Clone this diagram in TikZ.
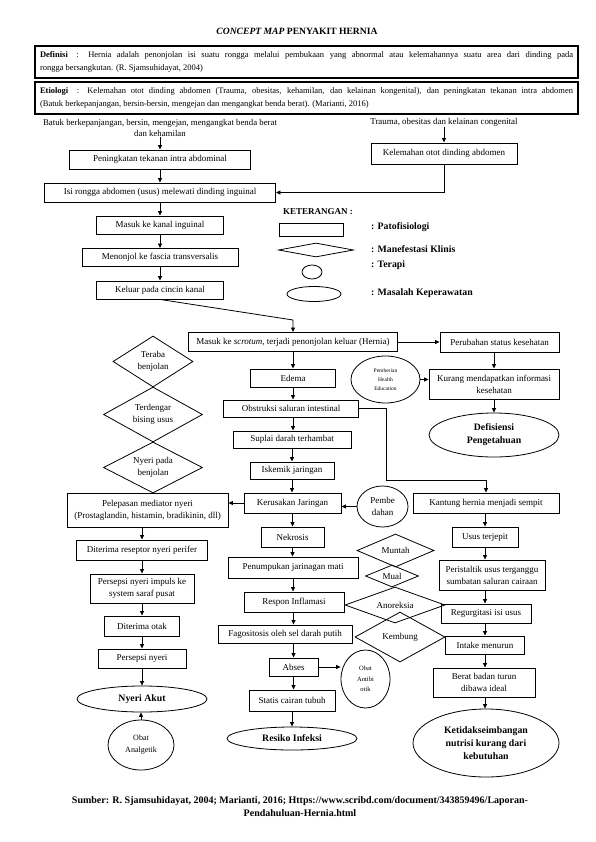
\documentclass[tikz,border=0pt]{standalone}
\usepackage{fontspec}
\setmainfont{Liberation Serif}
\usetikzlibrary{arrows.meta,shapes.geometric,calc}
\begin{document}
\begin{tikzpicture}[x=1pt,y=-1pt,
  every node/.style={font=\fontsize{9}{12}\selectfont, inner sep=1pt},
  box/.style={draw, line width=0.9pt, align=center, inner sep=1pt},
  dmd/.style={draw, diamond, line width=0.8pt, shape aspect=2, inner sep=0pt, align=center},
  ell/.style={draw, ellipse, line width=0.8pt, inner sep=0pt, align=center},
  bigell/.style={ell, font=\fontsize{9.8}{13}\selectfont\bfseries},
  arr/.style={-{Triangle[length=4.5pt,width=4pt]}, line width=0.8pt},
  lgl/.style={anchor=west, font=\fontsize{9.8}{11}\selectfont\bfseries},
  infobox/.style={draw, line width=1.1pt, minimum width=543, minimum height=32, inner sep=0pt}
]
\useasboundingbox (0,0) rectangle (595,842);

% title and info boxes
\node[font=\fontsize{9.6}{11}\selectfont\bfseries] (title) at (297,31) {\textit{CONCEPT MAP} PENYAKIT HERNIA};
\node[infobox] (def) at (306.5,62) {\parbox{533pt}{\fontsize{8.5}{12.5}\selectfont\hyphenpenalty=10000 \textbf{Definisi}\quad: Hernia adalah penonjolan isi suatu rongga melalui pembukaan yang abnormal atau kelemahannya suatu area dari dinding pada\linebreak rongga bersangkutan. (R. Sjamsuhidayat, 2004)}};
\node[infobox] (eti) at (306.5,98) {\parbox{533pt}{\fontsize{8.5}{12.5}\selectfont\hyphenpenalty=10000 \textbf{Etiologi}\quad: Kelemahan otot dinding abdomen (Trauma, obesitas, kehamilan, dan kelainan kongenital), dan peningkatan tekanan intra abdomen\linebreak (Batuk berkepanjangan, bersin-bersin, mengejan dan mengangkat benda berat). (Marianti, 2016)}};

% causes
\node[align=center, font=\fontsize{8.8}{11}\selectfont] (t1) at (160,127.5) {Batuk berkepanjangan, bersin, mengejan, mengangkat benda berat\\dan kehamilan};
\node[font=\fontsize{8.9}{11}\selectfont] (t2) at (444,122) {Trauma, obesitas dan kelainan congenital};

% left top column
\node[box, minimum width=181, minimum height=19] (n1) at (160,159.5) {Peningkatan tekanan intra abdominal};
\node[box, minimum width=231, minimum height=19] (n2) at (160,192.5) {Isi rongga abdomen (usus) melewati dinding inguinal};
\node[box, minimum width=127, minimum height=18] (n3) at (160,225) {Masuk ke kanal inguinal};
\node[box, minimum width=156, minimum height=18] (n4) at (160,257.5) {Menonjol ke fascia transversalis};
\node[box, minimum width=127, minimum height=18] (n5) at (160,290) {Keluar pada cincin kanal};
\node[box, minimum width=146, minimum height=21] (k1) at (444,153.5) {Kelemahan otot dinding abdomen};

% legend
\node[lgl, font=\fontsize{9}{11}\selectfont\bfseries] (ket) at (282,212) {KETERANGAN :};
\node[draw, line width=0.8pt, minimum width=64, minimum height=13, inner sep=0pt] (lg1) at (311,229.5) {};
\node[dmd, minimum width=75, minimum height=14] (lg2) at (316,250) {};
\node[ell, minimum width=20, minimum height=14] (lg3) at (312,272) {};
\node[ell, minimum width=54, minimum height=15] (lg4) at (314,294) {};
\node[lgl] (lt1) at (370,227) {: Patofisiologi};
\node[lgl] (lt2) at (370,249) {: Manefestasi Klinis};
\node[lgl] (lt3) at (370,265) {: Terapi};
\node[lgl] (lt4) at (370,293) {: Masalah Keperawatan};

% middle column
\node[box, minimum width=209, minimum height=19] (m1) at (293,342) {Masuk ke \textit{scrotum}, terjadi penonjolan keluar (Hernia)};
\node[box, minimum width=85, minimum height=18] (m2) at (293,378) {Edema};
\node[box, minimum width=135, minimum height=17] (m3) at (291,408.5) {Obstruksi saluran intestinal};
\node[box, minimum width=118, minimum height=17] (m4) at (292,439.5) {Suplai darah terhambat};
\node[box, minimum width=84, minimum height=17] (m5) at (292,470.5) {Iskemik jaringan};
\node[box, minimum width=97, minimum height=20] (m6) at (292.5,503) {Kerusakan Jaringan};
\node[box, minimum width=63, minimum height=20] (m7) at (292.5,537) {Nekrosis};
\node[box, minimum width=130, minimum height=21] (m8) at (293,567.5) {Penumpukan jarinagan mati};
\node[box, minimum width=100, minimum height=20] (m9) at (294,602) {Respon Inflamasi};
\node[box, minimum width=134, minimum height=18] (m10) at (285,634) {Fagositosis oleh sel darah putih};
\node[box, minimum width=49, minimum height=18] (m11) at (293.5,667) {Abses};
\node[box, minimum width=86, minimum height=21] (m12) at (292,700.5) {Statis cairan tubuh};
\node[bigell, minimum width=130, minimum height=23] (m13) at (292,738.5) {Resiko Infeksi};
\node[ell, minimum width=49, minimum height=58, font=\fontsize{6.5}{10.5}\selectfont] (oa) at (365.5,679) {Obat\\Antibi\\otik};

% left diamonds
\node[dmd, minimum width=80, minimum height=51] (d1) at (153,361.5) {Teraba\\benjolan};
\node[dmd, minimum width=99, minimum height=55] (d2) at (153,414.5) {Terdengar\\bising usus};
\node[dmd, minimum width=99, minimum height=51] (d3) at (153,467.5) {Nyeri pada\\benjolan};

% left column
\node[box, minimum width=161, minimum height=34] (l1) at (147.5,510) {Pelepasan mediator nyeri\\(Prostaglandin, histamin, bradikinin, dll)};
\node[box, minimum width=131, minimum height=20] (l2) at (142,550) {Diterima reseptor nyeri perifer};
\node[box, minimum width=104, minimum height=29] (l3) at (142,588.5) {Persepsi nyeri impuls ke\\system saraf pusat};
\node[box, minimum width=75, minimum height=20] (l4) at (142,626) {Diterima otak};
\node[box, minimum width=88, minimum height=19] (l5) at (142,658.5) {Persepsi nyeri};
\node[bigell, minimum width=130, minimum height=26] (l6) at (142,699) {Nyeri Akut};
\node[ell, minimum width=66, minimum height=50, font=\fontsize{8}{12}\selectfont] (l7) at (141,745) {Obat\\Analgetik};

% right column
\node[box, minimum width=119, minimum height=20] (r1) at (499.5,342) {Perubahan status kesehatan};
\node[box, minimum width=130, minimum height=30] (r2) at (494,384) {Kurang mendapatkan informasi\\kesehatan};
\node[ell, minimum width=69, minimum height=47, font=\fontsize{5.5}{9}\selectfont] (he) at (385.5,379.5) {Pemberian\\Health\\Education};
\node[bigell, minimum width=130, minimum height=44] (r3) at (494,435) {Defisiensi\\Pengetahuan};
\node[ell, minimum width=51, minimum height=41] (pb) at (382.5,506.5) {Pembe\\dahan};
\node[box, minimum width=146, minimum height=20] (r4) at (486,503) {Kantung hernia menjadi sempit};
\node[box, minimum width=66, minimum height=20] (r5) at (485,537) {Usus terjepit};
\node[box, minimum width=106, minimum height=30] (r6) at (492,575) {Peristaltik usus terganggu\\sumbatan saluran cairaan};
\node[box, minimum width=90, minimum height=19] (r7) at (486,613.5) {Regurgitasi isi usus};
\node[box, minimum width=79, minimum height=18] (r8) at (485,645) {Intake menurun};
\node[box, minimum width=102, minimum height=29] (r9) at (484,682.5) {Berat badan turun\\dibawa ideal};
\node[bigell, minimum width=146, minimum height=68] (r10) at (486,743) {Ketidakseimbangan\\nutrisi kurang dari\\kebutuhan};

% middle diamonds
\node[dmd, minimum width=77, minimum height=33] (dm1) at (395.5,550.5) {Muntah};
\node[dmd, minimum width=53, minimum height=22] (dm2) at (392,576) {Mual};
\node[dmd, minimum width=100, minimum height=36] (dm3) at (395,605) {Anoreksia};
\node[dmd, minimum width=90, minimum height=50] (dm4) at (400,637) {Kembung};

% source
\node[font=\fontsize{10}{13}\selectfont\bfseries, align=center] (src) at (300,806.5) {Sumber: R. Sjamsuhidayat, 2004; Marianti, 2016; Https://www.scribd.com/document/343859496/Laporan-\\Pendahuluan-Hernia.html};

% connectors
\draw[arr] (t1.south) -- (t1.south |- n1.north);
\draw[arr] (t2.south) -- (t2.south |- k1.north);
\draw[arr] (n1.south) -- (n2.north);
\draw[arr] (n2.south) -- (n3.north);
\draw[arr] (n3.south) -- (n4.north);
\draw[arr] (n4.south) -- (n5.north);
\draw[arr] (k1.south) |- (n2.east);
\coordinate (b1) at (293,320);
\draw[arr] (n5.south) -- (b1) -- (m1.north);
\draw[arr] (m1.south) -- (m1.south |- m2.north);
\draw[arr] (m2.south) -- (m2.south |- m3.north);
\draw[arr] (m2.south |- m3.south) -- (m2.south |- m4.north);
\draw[arr] (m4.south) -- (m4.south |- m5.north);
\draw[arr] (m5.south) -- (m5.south |- m6.north);
\draw[arr] (m6.south) -- (m6.south |- m7.north);
\draw[arr] (m7.south) -- (m7.south |- m8.north);
\draw[arr] (m8.south) -- (m8.south |- m9.north);
\draw[arr] (m11.north |- m9.south) -- (m11.north |- m10.north);
\draw[arr] (m11.north |- m10.south) -- (m11.north);
\draw[arr] (m11.south) -- (m11.south |- m12.north);
\draw[arr] (m12.south) -- (m12.south |- m13.north);
\draw[arr] (m11.east) -- (m11.east -| oa.west);
\draw[arr] (m1.east) -- (m1.east -| r1.west);
\draw[arr] (r2.north |- r1.south) -- (r2.north);
\draw[arr] (r2.south) -- (r3.north);
\draw[arr] (he.east) -- (he.east -| r2.west);
\coordinate (c1) at (386,480);
\draw[arr] (m3.east) -| (c1) -| (r4.north);
\draw[arr] (pb.west) -- (pb.west -| m6.east);
\draw[arr] (m6.west) -- (m6.west -| l1.east);
\draw[arr] (l2.north |- l1.south) -- (l2.north);
\draw[arr] (l2.south) -- (l3.north);
\draw[arr] (l3.south) -- (l4.north);
\draw[arr] (l4.south) -- (l5.north);
\draw[arr] (l5.south) -- (l6.north);
\draw[arr] (l7.north) -- (l7.north |- l6.south);
\draw[arr] (r5.north |- r4.south) -- (r5.north);
\draw[arr] (r5.south) -- (r5.south |- r6.north);
\draw[arr] (r5.south |- r6.south) -- (r5.south |- r7.north);
\draw[arr] (r5.south |- r7.south) -- (r5.south |- r8.north);
\draw[arr] (r8.south) -- (r8.south |- r9.north);
\draw[arr] (r8.south |- r9.south) -- (r8.south |- r10.north);
\end{tikzpicture}
\end{document}
